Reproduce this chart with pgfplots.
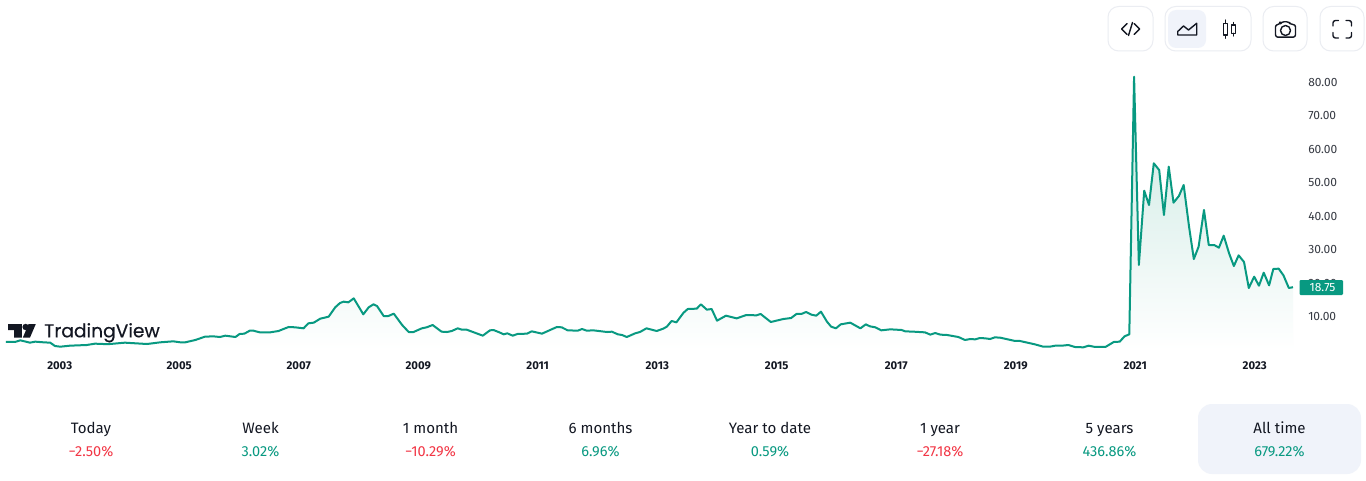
\documentclass[border=0pt]{standalone}
\usepackage{fontspec}
\usepackage{pgfplots}
\usepackage{pgfplotstable}
\pgfplotsset{compat=1.18}
\setmainfont{Fira Sans}
\newfontfamily\logofont[FakeBold=0.35]{Poppins}
\definecolor{tvgreen}{HTML}{089981}
\definecolor{tvred}{HTML}{F23645}
\definecolor{tvink}{HTML}{131722}
\definecolor{tvpale}{HTML}{F0F3FA}
\definecolor{tvborder}{HTML}{EBEDF2}
\definecolor{tvtop}{HTML}{C8E7E0}
\pgfplotstableread{
year value
2002.11 2.39
2002.26 2.39
2002.35 2.89
2002.51 2.19
2002.60 2.49
2002.74 2.29
2002.85 2.19
2002.93 1.19
2003.02 0.99
2003.18 1.29
2003.46 1.49
2003.60 1.89
2003.74 1.79
2003.85 1.79
2004.10 2.19
2004.47 1.79
2004.69 2.29
2004.91 2.59
2005.03 2.29
2005.11 2.29
2005.28 2.99
2005.44 3.98
2005.58 4.08
2005.69 3.88
2005.78 4.28
2005.95 3.88
2006.02 4.78
2006.10 4.88
2006.19 5.77
2006.25 5.77
2006.36 5.27
2006.53 5.27
2006.67 5.67
2006.84 6.87
2006.95 6.77
2007.09 6.47
2007.17 7.96
2007.26 8.16
2007.37 9.35
2007.51 9.95
2007.62 12.74
2007.70 14.03
2007.76 14.43
2007.84 14.23
2007.93 15.42
2008.09 10.65
2008.18 12.74
2008.26 13.63
2008.32 13.13
2008.43 10.15
2008.51 10.15
2008.60 10.85
2008.74 7.46
2008.85 5.37
2008.93 5.37
2009.07 6.47
2009.15 6.77
2009.25 7.46
2009.40 5.47
2009.49 5.37
2009.57 5.67
2009.67 6.47
2009.74 6.07
2009.82 6.07
2010.09 4.28
2010.21 5.87
2010.27 5.97
2010.38 5.17
2010.44 4.68
2010.50 4.98
2010.59 4.28
2010.67 4.78
2010.83 4.88
2010.91 5.57
2011.08 4.88
2011.33 6.87
2011.41 6.77
2011.51 5.87
2011.68 5.77
2011.75 6.27
2011.83 5.77
2011.94 5.87
2012.17 5.37
2012.25 5.47
2012.35 4.68
2012.42 4.48
2012.50 3.88
2012.64 4.98
2012.72 5.37
2012.83 6.47
2013.00 5.67
2013.11 6.37
2013.17 6.97
2013.25 8.66
2013.33 8.26
2013.45 11.14
2013.52 12.24
2013.67 12.34
2013.74 13.63
2013.84 12.04
2013.92 12.24
2014.01 8.76
2014.16 10.25
2014.34 9.45
2014.50 10.45
2014.67 10.35
2014.74 10.75
2014.91 8.36
2015.12 9.25
2015.25 9.55
2015.34 10.75
2015.42 10.75
2015.50 11.34
2015.59 10.55
2015.67 10.25
2015.75 11.44
2015.85 8.46
2015.92 6.97
2016.00 6.47
2016.08 7.66
2016.24 8.16
2016.41 6.47
2016.50 7.66
2016.57 7.06
2016.66 6.77
2016.76 5.87
2016.91 6.17
2017.10 5.97
2017.16 5.57
2017.30 5.47
2017.49 5.27
2017.58 4.58
2017.66 5.07
2017.75 4.58
2017.86 4.48
2018.05 3.88
2018.16 2.99
2018.25 3.28
2018.33 3.18
2018.41 3.58
2018.50 3.48
2018.58 3.28
2018.66 3.78
2018.75 3.68
2019.00 2.69
2019.08 2.69
2019.33 1.69
2019.47 0.99
2019.58 0.99
2019.67 1.29
2019.78 1.29
2019.89 1.49
2020.00 0.90
2020.14 0.80
2020.23 1.29
2020.34 0.90
2020.51 0.90
2020.65 2.39
2020.75 2.49
2020.83 4.08
2020.91 4.68
2020.99 81.59
2021.07 25.37
2021.16 47.56
2021.24 43.28
2021.32 55.72
2021.41 53.73
2021.49 40.30
2021.57 54.73
2021.65 43.98
2021.74 45.97
2021.82 49.25
2021.91 36.82
2021.99 27.16
2022.07 30.85
2022.16 41.79
2022.24 31.34
2022.33 31.34
2022.41 30.55
2022.49 34.13
2022.58 28.86
2022.66 25.07
2022.74 28.26
2022.83 26.27
2022.91 18.51
2023.00 21.89
2023.08 19.20
2023.16 23.08
2023.25 19.30
2023.32 24.18
2023.41 24.28
2023.49 22.29
2023.58 18.51
2023.65 18.75
}\pricedata
\begin{document}
\begin{tikzpicture}
\useasboundingbox (0,0) rectangle (1024.5pt,-360.75pt);
\fill[white] (0,0) rectangle (1024.5pt,-360.75pt);
\begin{scope}[x=0.75pt,y=-0.75pt]
  % highlight for "All time"
  \fill[tvpale,rounded corners=10.5pt] (1198,404) rectangle (1361,474);
  % toolbar boxes
  \draw[tvborder,line width=0.75pt,rounded corners=8pt] (1108,6.5) rectangle (1153,51);
  \draw[tvborder,line width=0.75pt,rounded corners=8pt] (1165,6.5) rectangle (1251,51);
  \draw[tvborder,line width=0.75pt,rounded corners=8pt] (1263,6.5) rectangle (1307,51);
  \draw[tvborder,line width=0.75pt,rounded corners=8pt] (1320,6.5) rectangle (1364,51);
  \fill[tvpale,rounded corners=6pt] (1168,10) rectangle (1206,48);
  \begin{scope}[tvink,line width=1.05pt,line join=round,line cap=round]
    % code icon
    \draw (1127,23.5) -- (1121.5,29) -- (1127,34.5);
    \draw (1132.5,22.5) -- (1128.5,35.5);
    \draw (1134,23.5) -- (1139.5,29) -- (1134,34.5);
    % area icon
    \draw (1177.7,35) -- (1177.7,31.5) -- (1183.5,26) -- (1188.5,30) -- (1196.7,23.3) -- (1196.7,35) -- cycle;
    % candle icon
    \draw (1223.3,23.5) rectangle (1227.3,35);
    \draw (1225.3,20) -- (1225.3,23.5) (1225.3,35) -- (1225.3,38.3);
    \draw (1231.3,25) rectangle (1235.3,33.3);
    \draw (1233.3,22.5) -- (1233.3,25) (1233.3,33.3) -- (1233.3,36);
    % camera icon
    \draw[rounded corners=1.8pt] (1275.5,24.5) -- (1280,24.5) -- (1280,24.5) -- (1281.5,21.8) -- (1289,21.8) -- (1290.5,24.5) -- (1295.5,24.5) -- (1295.5,37.2) -- (1275.5,37.2) -- cycle;
    \draw (1285.5,30.5) circle[radius=3.75pt];
    % fullscreen icon
    \draw[rounded corners=1.8pt] (1333,26) -- (1333,20.5) -- (1338.5,20.5);
    \draw[rounded corners=1.8pt] (1346,20.5) -- (1351.5,20.5) -- (1351.5,26);
    \draw[rounded corners=1.8pt] (1351.5,32.5) -- (1351.5,38) -- (1346,38);
    \draw[rounded corners=1.8pt] (1338.5,38) -- (1333,38) -- (1333,32.5);
  \end{scope}
\end{scope}
\begin{axis}[
  at={(4.5pt,-262.5pt)}, anchor=south west,
  scale only axis, width=965.25pt, height=226.125pt,
  xmin=2002.11, xmax=2023.65, ymin=0, ymax=90,
  clip=false,
  axis line style={draw=none},
  major tick length=0pt,
  xtick={2003,2005,...,2023},
  ytick={10,20,...,80},
  xticklabel style={/pgf/number format/1000 sep={}, /pgf/number format/assume math mode=true, font=\fontsize{8.5pt}{10pt}\selectfont\bfseries, text=tvink, inner sep=0pt, anchor=center, yshift=-11.6pt, xshift=0.4pt},
  yticklabel pos=right,
  yticklabel style={/pgf/number format/fixed, /pgf/number format/fixed zerofill, /pgf/number format/precision=2, /pgf/number format/assume math mode=true, font=\fontsize{9pt}{11pt}\selectfont, text=tvink!85, inner sep=0pt, anchor=west, xshift=11.25pt},
]
\addplot[draw=none, top color=tvtop, bottom color=white, forget plot] table[x=year,y=value] {\pricedata} \closedcycle;
\addplot[tvgreen, line width=1.5pt, line join=round, no marks] table[x=year,y=value] {\pricedata};
\end{axis}
\begin{scope}[x=0.75pt,y=-0.75pt]
  % price pill
  \fill[tvgreen,rounded corners=0.8pt] (1299.5,280) rectangle (1343,295);
  \node[text=white,font=\fontsize{9pt}{11pt}\selectfont,inner sep=0pt] at (1322.5,287.7) {18.75};
  % logo
  \fill[tvink] (8,324) -- (21.8,324) -- (21.8,337.5) -- (14.2,337.5) -- (14.2,330) -- (8,330) -- cycle;
  \fill[tvink] (25.6,327) circle[radius=2.4pt];
  \fill[tvink] (28.6,324) -- (35.8,324) -- (30,337.5) -- (22.9,337.5) -- cycle;
  \node[anchor=base west,inner sep=0pt,text=tvink,font=\logofont\fontsize{14pt}{17pt}\selectfont] at (44,337.3) {TradingView};
  % performance strip
  \foreach \cx/\lab/\val/\col in {91/Today/−2.50\%/tvred,260.5/Week/3.02\%/tvgreen,430.5/1 month/−10.29\%/tvred,600.5/6 months/6.96\%/tvgreen,770/Year to date/0.59\%/tvgreen,940/1 year/−27.18\%/tvred,1109.5/5 years/436.86\%/tvgreen,1279.5/All time/679.22\%/tvgreen}{
    \node[anchor=base,text=tvink,font=\fontsize{11.3pt}{13pt}\selectfont,inner sep=0pt] at (\cx,433) {\lab};
    \node[anchor=base,text=\col,font=\fontsize{10.9pt}{13pt}\selectfont,inner sep=0pt] at (\cx,456) {\val};
  }
\end{scope}
\end{tikzpicture}
\end{document}
